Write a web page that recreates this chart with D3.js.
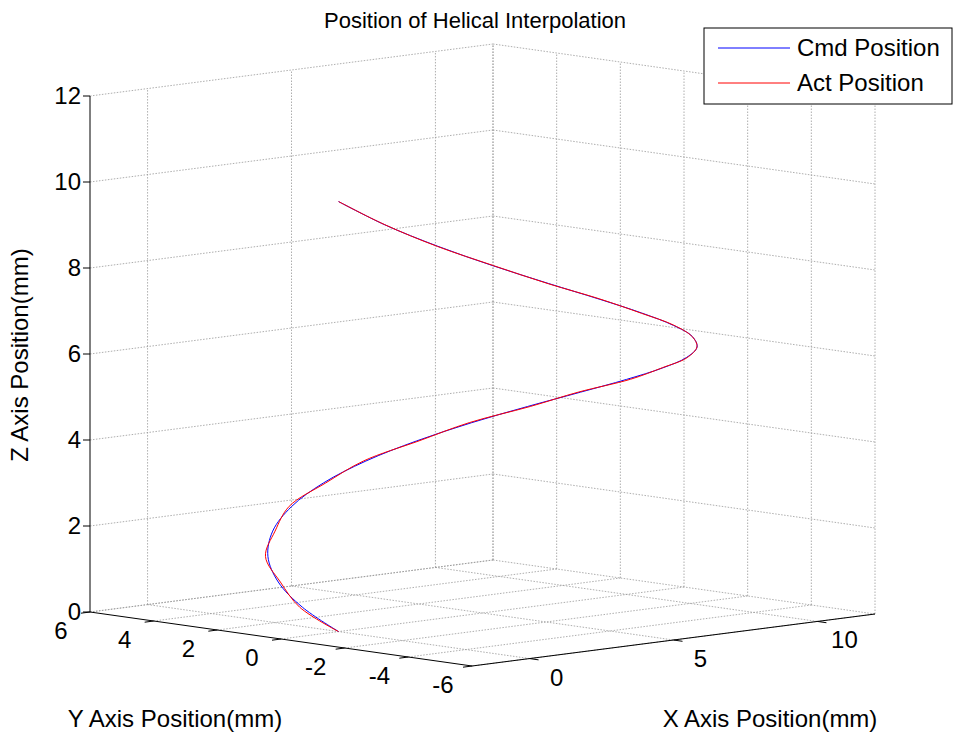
<!DOCTYPE html>
<html><head><meta charset="utf-8">
<script src="https://cdn.jsdelivr.net/npm/d3@7"></script>
<style>body{margin:0;background:#fff}text{font-family:"Liberation Sans Narrow","Arial Narrow","Liberation Sans",Arial,sans-serif}</style>
</head><body><svg id="c" width="953" height="751"></svg>
<script>
const xTicks=[0,5,10], yTicks=[6,4,2,0,-2,-4,-6], zTicks=[0,2,4,6,8,10,12];
const cmdX=[0,0.17,0.67,1.46,2.5,3.71,5,6.29,7.5,8.54,9.33,9.83,10,9.83,9.33,8.54,7.5,6.29,5,3.71,2.5,1.46,0.67,0.17,0];
const cmdY=[0,1.29,2.5,3.54,4.33,4.83,5,4.83,4.33,3.54,2.5,1.29,0,-1.29,-2.5,-3.54,-4.33,-4.83,-5,-4.83,-4.33,-3.54,-2.5,-1.29,0];
const cmdZ=[0,0.417,0.833,1.25,1.667,2.083,2.5,2.917,3.333,3.75,4.167,4.583,5,5.417,5.833,6.25,6.667,7.083,7.5,7.917,8.333,8.75,9.167,9.583,10];
const actX=[0,0.12,0.7,1.42,2.55,3.68,5.05,6.25,7.55,8.5,9.38,9.8,10.1,9.88,9.3,8.58,7.46,6.33,4.96,3.75,2.46,1.5,0.63,0.2,0];
const actY=[0,1.33,2.46,3.58,4.3,4.88,4.97,4.87,4.3,3.58,2.46,1.33,-0.04,-1.25,-2.54,-3.5,-4.37,-4.8,-5.03,-4.8,-4.37,-3.5,-2.54,-1.25,0];
const actZ=[0,0.417,0.833,1.25,1.667,2.083,2.5,2.917,3.333,3.75,4.167,4.583,5,5.417,5.833,6.25,6.667,7.083,7.5,7.917,8.333,8.75,9.167,9.583,10];

const svg=d3.select("#c");
const X=d3.scaleLinear().domain([-2,12]).range([0,1]);
const Y=d3.scaleLinear().domain([6,-6]).range([0,1]);
const Z=d3.scaleLinear().domain([0,12]).range([0,516]);
const O=[90,612], EX=[403,-52], EY=[382,54];
function P(x,y,z){const a=X(x),b=Y(y);return [O[0]+a*EX[0]+b*EY[0], O[1]+a*EX[1]+b*EY[1]-Z(z)];}
const line=d3.line();
const g=svg.append("g");
function seg(p,q,cls){g.append("path").attr("d",line([p,q])).attr("fill","none")
 .attr("stroke",cls?"#000":"#999").attr("stroke-width",cls?1:0.8).attr("stroke-dasharray",cls?null:"1.5,1.5");}
xTicks.forEach(x=>seg(P(x,6,0),P(x,-6,0)));
yTicks.forEach(y=>seg(P(-2,y,0),P(12,y,0)));
xTicks.concat([12]).forEach(x=>seg(P(x,6,0),P(x,6,12)));
zTicks.forEach(z=>seg(P(-2,6,z),P(12,6,z)));
yTicks.forEach(y=>seg(P(12,y,0),P(12,y,12)));
zTicks.forEach(z=>seg(P(12,6,z),P(12,-6,z)));
seg(P(-2,6,0),P(-2,6,12),1);
seg(P(-2,6,0),P(-2,-6,0),1);
seg(P(-2,-6,0),P(12,-6,0),1);
const fs=24;
zTicks.forEach(z=>{const p=P(-2,6,z);seg(p,[p[0]-7,p[1]],1);
 svg.append("text").attr("x",p[0]-9).attr("y",p[1]+8).attr("text-anchor","end").attr("font-size",fs).text(z);});
yTicks.forEach(y=>{const p=P(-2,y,0);seg(p,[p[0]-9,p[1]+1.2],1);
 svg.append("text").attr("x",p[0]-29).attr("y",p[1]+27).attr("text-anchor","middle").attr("font-size",fs).text(y===0?"0":(y<0?"-"+(-y):y));});
xTicks.forEach(x=>{const p=P(x,-6,0);seg(p,[p[0]+9,p[1]+1.3],1);
 svg.append("text").attr("x",p[0]+27).attr("y",p[1]+27).attr("text-anchor","middle").attr("font-size",fs).text(x);});
const curve=d3.line().curve(d3.curveCatmullRom);
const cmdPts=cmdX.map((x,i)=>P(x,cmdY[i],cmdZ[i]));
const actPts=actX.map((x,i)=>P(x,actY[i],actZ[i]));
svg.append("path").attr("d",curve(cmdPts)).attr("fill","none").attr("stroke","#0000ff").attr("stroke-width",1);
svg.append("path").attr("d",curve(actPts)).attr("fill","none").attr("stroke","#ff0000").attr("stroke-width",1);
svg.append("text").attr("x",475).attr("y",28).attr("text-anchor","middle").attr("font-size",22).text("Position of Helical Interpolation");
svg.append("text").attr("x",175).attr("y",727).attr("text-anchor","middle").attr("font-size",24).text("Y Axis Position(mm)");
svg.append("text").attr("x",770).attr("y",727).attr("text-anchor","middle").attr("font-size",24).text("X Axis Position(mm)");
svg.append("text").attr("transform","translate(28,355) rotate(-90)").attr("text-anchor","middle").attr("font-size",24).text("Z Axis Position(mm)");
const lg=svg.append("g");
lg.append("rect").attr("x",704).attr("y",28).attr("width",248).attr("height",76).attr("fill","#fff").attr("stroke","#000");
[["Cmd Position","#0000ff",48],["Act Position","#ff0000",83]].forEach(d=>{
 lg.append("line").attr("x1",718).attr("x2",790).attr("y1",d[2]).attr("y2",d[2]).attr("stroke",d[1]);
 lg.append("text").attr("x",797).attr("y",d[2]+8).attr("font-size",24).text(d[0]);});
</script></body></html>
